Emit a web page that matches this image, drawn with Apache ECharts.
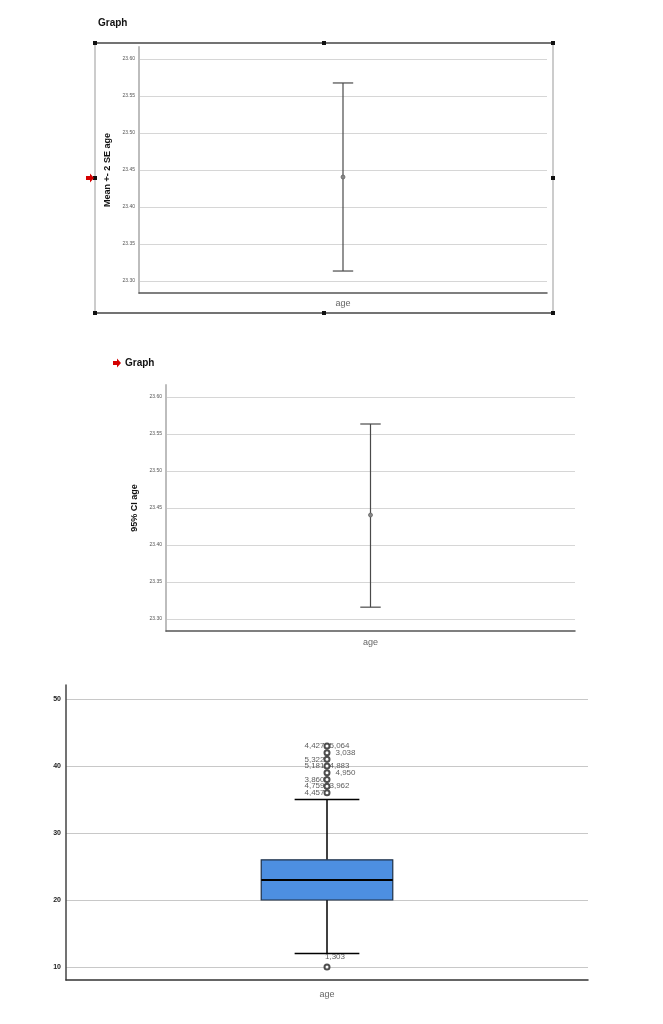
<!DOCTYPE html>
<html><head><meta charset="utf-8">
<script src="https://cdn.jsdelivr.net/npm/echarts@6/dist/echarts.min.js"></script>
<style>html,body{margin:0;padding:0;background:#fff}#c{width:663px;height:1024px}</style>
</head><body><div id="c"></div><script>
// ---- data ----
const categories = ['age'];
const seLow = [23.3135];
const seMean = [23.4405];
const seHigh = [23.5676];
const ciLow = [23.316];
const ciMean = [23.4405];
const ciHigh = [23.5635];
const meanTicks = [23.30, 23.35, 23.40, 23.45, 23.50, 23.55, 23.60];
const boxMin = [12];
const boxQ1 = [20];
const boxMedian = [23];
const boxQ3 = [26];
const boxMax = [35];
const boxTicks = [10, 20, 30, 40, 50];
const outlierValues = [36, 37, 38, 39, 40, 41, 42, 43, 10];
const outlierLeftIds = ['4,457', '4,759', '3,860', '', '5,181', '5,322', '', '4,427', ''];
const outlierRightIds = ['', '3,962', '', '4,950', '4,883', '', '3,038', '5,064', '1,303'];
const titles = ['Graph', 'Graph'];
const yTitles = ['Mean +- 2 SE age', '95% CI age'];

// ---- helpers ----
const FONT = 'Liberation Sans, Arial, sans-serif';
function isTick(list, v) { return list.some(t => Math.abs(t - v) < 1e-6); }

function errRender(params, api) {
  const x = api.value(0);
  const pLo = api.coord([x, api.value(1)]);
  const pM = api.coord([x, api.value(2)]);
  const pHi = api.coord([x, api.value(3)]);
  const cap = api.size([1, 0])[0] * 0.025;
  const st = { stroke: '#4a4a4a', lineWidth: 1.2 };
  return { type: 'group', children: [
    { type: 'line', shape: { x1: pHi[0], y1: pHi[1], x2: pLo[0], y2: pLo[1] }, style: st },
    { type: 'line', shape: { x1: pHi[0] - cap, y1: pHi[1], x2: pHi[0] + cap, y2: pHi[1] }, style: st },
    { type: 'line', shape: { x1: pLo[0] - cap, y1: pLo[1], x2: pLo[0] + cap, y2: pLo[1] }, style: st },
    { type: 'circle', shape: { cx: pM[0], cy: pM[1], r: 2 }, style: { fill: '#888', stroke: '#666', lineWidth: 0.8 } }
  ]};
}

function boxRender(params, api) {
  const x = api.value(0);
  const pMin = api.coord([x, api.value(1)]);
  const pQ1 = api.coord([x, api.value(2)]);
  const pMed = api.coord([x, api.value(3)]);
  const pQ3 = api.coord([x, api.value(4)]);
  const pMax = api.coord([x, api.value(5)]);
  const bw = api.size([1, 0])[0];
  const half = bw * 0.126, cap = bw * 0.062;
  const st = { stroke: '#000', lineWidth: 1.5 };
  return { type: 'group', children: [
    { type: 'line', shape: { x1: pMax[0], y1: pMax[1], x2: pQ3[0], y2: pQ3[1] }, style: st },
    { type: 'line', shape: { x1: pQ1[0], y1: pQ1[1], x2: pMin[0], y2: pMin[1] }, style: st },
    { type: 'line', shape: { x1: pMax[0] - cap, y1: pMax[1], x2: pMax[0] + cap, y2: pMax[1] }, style: st },
    { type: 'line', shape: { x1: pMin[0] - cap, y1: pMin[1], x2: pMin[0] + cap, y2: pMin[1] }, style: st },
    { type: 'rect', shape: { x: pQ3[0] - half, y: pQ3[1], width: 2 * half, height: pQ1[1] - pQ3[1] },
      style: { fill: '#4d8fe1', stroke: '#1e2f45', lineWidth: 1.2 } },
    { type: 'line', shape: { x1: pMed[0] - half, y1: pMed[1], x2: pMed[0] + half, y2: pMed[1] }, style: { stroke: '#000', lineWidth: 2 } }
  ]};
}

const meanYAxis = (idx, name, gap) => ({
  type: 'value', gridIndex: idx, min: 23.2838, max: 23.6162, splitNumber: 7,
  name: name, nameLocation: 'middle', nameRotate: 90, nameGap: gap,
  nameTextStyle: { fontFamily: FONT, fontSize: 9, fontWeight: 'bold', color: '#111' },
  axisLine: { show: true, lineStyle: { color: '#bdbdbd', width: 2 } },
  axisTick: { show: false },
  axisLabel: { fontFamily: FONT, fontSize: 5, color: '#555', margin: 4,
    formatter: v => isTick(meanTicks, v) ? v.toFixed(2) : '' },
  splitLine: { show: true, showMinLine: false, showMaxLine: false, lineStyle: { color: '#d6d6d6', width: 1 } }
});

const catXAxis = (idx, lineColor, margin) => ({
  type: 'category', gridIndex: idx, data: categories, boundaryGap: true,
  axisLine: { show: true, lineStyle: { color: lineColor, width: 1.5 } },
  axisTick: { show: false },
  axisLabel: { fontFamily: FONT, fontSize: 9, color: '#666', margin: margin },
  splitLine: { show: false }
});

function arrow(tx, ty) {
  return { type: 'polygon', shape: { points: [[tx - 8, ty - 2], [tx - 4, ty - 2], [tx - 4, ty - 4.5], [tx, ty], [tx - 4, ty + 4.5], [tx - 4, ty + 2], [tx - 8, ty + 2]] },
    style: { fill: '#d40000' } };
}
function handle(x, y) { return { type: 'rect', shape: { x: x - 2, y: y - 2, width: 4, height: 4 }, style: { fill: '#111' } }; }

const outlierData = outlierValues.map((v, i) => {
  const below = v < boxMin[0];
  const both = outlierLeftIds[i] && outlierRightIds[i];
  return {
    value: [categories[0], v],
    label: outlierRightIds[i] ? (below
      ? { show: true, formatter: outlierRightIds[i], position: 'top', offset: [8, 2] }
      : { show: true, formatter: outlierRightIds[i], position: 'right', distance: both ? -1 : 5 })
      : { show: false }
  };
});
const outlierLeftData = outlierValues.map((v, i) => ({
  value: [categories[0], v],
  label: outlierLeftIds[i] ? { show: true, formatter: outlierLeftIds[i], position: 'left', distance: 0 } : { show: false }
}));

const option = {
  animation: false,
  backgroundColor: '#fff',
  grid: [
    { left: 139, top: 47, width: 408, height: 246, containLabel: false, outerBoundsMode: 'none' },
    { left: 166, top: 385, width: 409, height: 246, containLabel: false, outerBoundsMode: 'none' },
    { left: 66, top: 685, width: 522, height: 295, containLabel: false, outerBoundsMode: 'none' }
  ],
  xAxis: [catXAxis(0, '#555', 6), catXAxis(1, '#555', 7), catXAxis(2, '#333', 10)],
  yAxis: [
    meanYAxis(0, yTitles[0], 22),
    meanYAxis(1, yTitles[1], 22),
    { type: 'value', gridIndex: 2, min: 8.06, max: 52.1, splitNumber: 5,
      axisLine: { show: true, lineStyle: { color: '#444', width: 1.5 } },
      axisTick: { show: false },
      axisLabel: { fontFamily: FONT, fontSize: 7, fontWeight: 'bold', color: '#222', margin: 5,
        formatter: v => isTick(boxTicks, v) ? String(v) : '' },
      splitLine: { show: true, showMinLine: false, showMaxLine: false, lineStyle: { color: '#c8c8c8', width: 1.2 } } }
  ],
  series: [
    { type: 'custom', xAxisIndex: 0, yAxisIndex: 0, renderItem: errRender,
      data: categories.map((c, i) => [i, seLow[i], seMean[i], seHigh[i]]) },
    { type: 'custom', xAxisIndex: 1, yAxisIndex: 1, renderItem: errRender,
      data: categories.map((c, i) => [i, ciLow[i], ciMean[i], ciHigh[i]]) },
    { type: 'custom', xAxisIndex: 2, yAxisIndex: 2, renderItem: boxRender,
      data: categories.map((c, i) => [i, boxMin[i], boxQ1[i], boxMedian[i], boxQ3[i], boxMax[i]]) },
    { type: 'scatter', xAxisIndex: 2, yAxisIndex: 2, symbol: 'emptyCircle', symbolSize: 5,
      itemStyle: { color: '#222', borderColor: '#222', borderWidth: 1.2 },
      label: { fontFamily: FONT, fontSize: 8, color: '#333' },
      data: outlierData, z: 5 },
    { type: 'scatter', xAxisIndex: 2, yAxisIndex: 2, symbol: 'circle', symbolSize: 5,
      itemStyle: { color: 'rgba(0,0,0,0)' },
      label: { fontFamily: FONT, fontSize: 8, color: '#333' },
      data: outlierLeftData, z: 6 }
  ],
  graphic: [
    { type: 'text', left: 98, top: 18, style: { text: titles[0], fontFamily: FONT, fontSize: 10, fontWeight: 'bold', fill: '#111' } },
    { type: 'text', left: 125, top: 358, style: { text: titles[1], fontFamily: FONT, fontSize: 10, fontWeight: 'bold', fill: '#111' } },
    { type: 'line', shape: { x1: 95, y1: 43, x2: 553, y2: 43 }, style: { stroke: '#444', lineWidth: 1.5 } },
    { type: 'line', shape: { x1: 95, y1: 313, x2: 553, y2: 313 }, style: { stroke: '#444', lineWidth: 1.5 } },
    { type: 'line', shape: { x1: 95, y1: 43, x2: 95, y2: 313 }, style: { stroke: '#999', lineWidth: 1 } },
    { type: 'line', shape: { x1: 553, y1: 43, x2: 553, y2: 313 }, style: { stroke: '#999', lineWidth: 1 } },
    handle(95, 43), handle(324, 43), handle(553, 43),
    handle(95, 178), handle(553, 178),
    handle(95, 313), handle(324, 313), handle(553, 313),
    arrow(94, 178),
    arrow(121, 363)
  ]
};

const chart = echarts.init(document.getElementById('c'), null, { renderer: 'canvas', width: 663, height: 1024 });
chart.setOption(option);
</script></body></html>
